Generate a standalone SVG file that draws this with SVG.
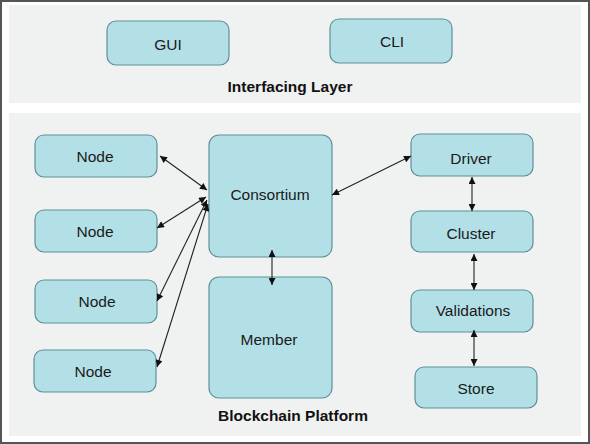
<svg xmlns="http://www.w3.org/2000/svg" width="590" height="444" viewBox="0 0 590 444">
<style>
.panel{fill:#f0f1f1;stroke:none}
.box{fill:#b3e0e7;stroke:#5f8f98;stroke-width:1.2}
.lbl{font-family:"Liberation Sans",Arial,sans-serif;font-size:15.5px;fill:#1a1a1a;text-anchor:middle;dominant-baseline:central}
.title{font-family:"Liberation Sans",Arial,sans-serif;font-size:15.5px;font-weight:bold;fill:#111;text-anchor:middle}
.con{stroke:#222;stroke-width:1.1;fill:none;marker-start:url(#ah);marker-end:url(#ah)}
</style>
<defs>
<marker id="ah" viewBox="0 0 10 10" refX="10" refY="5" markerWidth="9" markerHeight="7" markerUnits="userSpaceOnUse" orient="auto-start-reverse">
<path d="M0,0 L10,5 L0,10 z" fill="#111"/>
</marker>
</defs>
<rect x="0" y="0" width="590" height="444" fill="#ffffff"/>
<rect x="1" y="1" width="588" height="442" fill="none" stroke="#555" stroke-width="2"/>
<rect class="panel" x="9" y="5" width="572" height="98"/>
<rect class="panel" x="9" y="113" width="572" height="323"/>
<text class="title" x="290" y="92">Interfacing Layer</text>
<text class="title" x="293" y="421">Blockchain Platform</text>
<g id="gui"><rect class="box" x="107" y="21" width="122" height="44" rx="9"/><text class="lbl" x="168" y="44">GUI</text></g>
<g id="cli"><rect class="box" x="330" y="19" width="122" height="44" rx="9"/><text class="lbl" x="392" y="41">CLI</text></g>
<g id="node1"><rect class="box" x="35" y="135" width="122" height="42" rx="9"/><text class="lbl" x="95" y="156">Node</text></g>
<g id="node2"><rect class="box" x="35" y="210" width="122" height="42" rx="9"/><text class="lbl" x="95" y="231">Node</text></g>
<g id="node3"><rect class="box" x="35" y="280" width="122" height="43" rx="9"/><text class="lbl" x="97" y="301">Node</text></g>
<g id="node4"><rect class="box" x="34" y="350" width="122" height="42" rx="9"/><text class="lbl" x="93" y="371">Node</text></g>
<g id="consortium"><rect class="box" x="209" y="135" width="123" height="122" rx="10"/><text class="lbl" x="270" y="194">Consortium</text></g>
<g id="member"><rect class="box" x="209" y="277" width="123" height="121" rx="10"/><text class="lbl" x="269" y="339">Member</text></g>
<g id="driver"><rect class="box" x="411" y="134" width="122" height="42" rx="9"/><text class="lbl" x="471" y="158">Driver</text></g>
<g id="cluster"><rect class="box" x="411" y="211" width="122" height="41" rx="9"/><text class="lbl" x="471" y="233">Cluster</text></g>
<g id="validations"><rect class="box" x="411" y="290" width="122" height="42" rx="9"/><text class="lbl" x="473" y="310">Validations</text></g>
<g id="store"><rect class="box" x="415" y="367" width="122" height="41" rx="9"/><text class="lbl" x="476" y="388">Store</text></g>
<g id="connectors">
<line class="con" x1="160" y1="156" x2="207" y2="190"/>
<line class="con" x1="157" y1="228" x2="206" y2="197"/>
<line class="con" x1="157" y1="301" x2="207" y2="200"/>
<line class="con" x1="157" y1="367" x2="208" y2="204"/>
<line class="con" x1="332" y1="195" x2="411" y2="156"/>
<line class="con" x1="272" y1="250" x2="272" y2="285"/>
<line class="con" x1="472" y1="177" x2="472" y2="211"/>
<line class="con" x1="474" y1="254" x2="474" y2="290"/>
<line class="con" x1="474" y1="330" x2="474" y2="366"/>
</g>
</svg>
